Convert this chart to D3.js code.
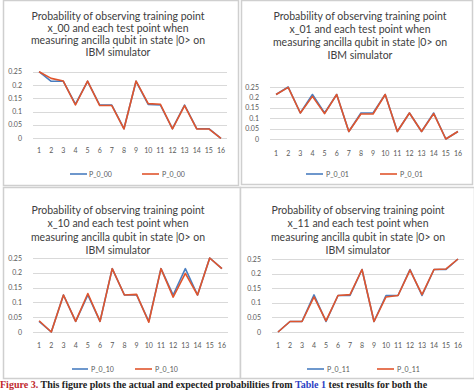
<!DOCTYPE html>
<html>
<head>
<meta charset="utf-8">
<script src="https://cdn.jsdelivr.net/npm/d3@7"></script>
<style>
html,body{margin:0;padding:0;background:#fff;overflow:hidden;}
svg{display:block;}
</style>
</head>
<body>
<svg id="chart" width="474" height="392"></svg>
<script>
// ---------- DATA ----------
const categories = d3.range(1, 17).map(String);
const yTicks = [0, 0.05, 0.1, 0.15, 0.2, 0.25];
const yTickLabels = ["0", "0.05", "0.1", "0.15", "0.2", "0.25"];

const titles = ["x_00", "x_01", "x_10", "x_11"];
const seriesNames = ["P_0_00", "P_0_01", "P_0_10", "P_0_11"];

const blue00 = [0.25, 0.214, 0.214, 0.128, 0.214, 0.125, 0.125, 0.036, 0.214, 0.127, 0.125, 0.036, 0.125, 0.036, 0.036, 0];
const red00  = [0.25, 0.225, 0.215, 0.125, 0.215, 0.123, 0.123, 0.035, 0.215, 0.13, 0.128, 0.035, 0.123, 0.035, 0.035, 0];

const blue01 = [0.214, 0.25, 0.125, 0.214, 0.125, 0.214, 0.036, 0.125, 0.125, 0.214, 0.036, 0.125, 0.036, 0.125, 0, 0.036];
const red01  = [0.214, 0.248, 0.125, 0.205, 0.122, 0.214, 0.036, 0.12, 0.12, 0.214, 0.036, 0.125, 0.036, 0.122, 0, 0.036];

const blue10 = [0.036, 0, 0.125, 0.036, 0.125, 0.036, 0.214, 0.125, 0.125, 0.036, 0.214, 0.125, 0.214, 0.125, 0.25, 0.214];
const red10  = [0.038, 0, 0.125, 0.036, 0.13, 0.036, 0.214, 0.125, 0.127, 0.033, 0.214, 0.118, 0.198, 0.125, 0.25, 0.214];

const blue11 = [0, 0.036, 0.036, 0.127, 0.036, 0.125, 0.125, 0.214, 0.036, 0.125, 0.125, 0.214, 0.125, 0.214, 0.214, 0.25];
const red11  = [0, 0.036, 0.036, 0.12, 0.038, 0.125, 0.128, 0.214, 0.036, 0.12, 0.125, 0.212, 0.128, 0.214, 0.216, 0.25];

const blueSeries = [blue00, blue01, blue10, blue11];
const redSeries = [red00, red01, red10, red11];

// ---------- LAYOUT ----------
const layouts = [
  {box:[3,0,238,185],  plot:[33,227,71.7,138.3], xLab:153, titleX:118, titleY:[16,28,40,52],  leg:174, legB:[70,87,89], legR:[142,159,162]},
  {box:[241,0,472,184],plot:[270,464,87,139],   xLab:156, titleX:360, titleY:[16,29,42,55],  leg:174, legB:[306,323,326], legR:[380,397,400]},
  {box:[3,187,240,378],plot:[33,228,258,332],   xLab:348, titleX:118, titleY:[210,223,237,250], leg:369, legB:[72,88,91], legR:[135,152,155]},
  {box:[240,187,474,378],plot:[272,464,259,332],xLab:348, titleX:358, titleY:[210,223,237,250], leg:369, legB:[307,324,327], legR:[377,394,397]}
];

const BLUE = "#4A7EC0";
const RED = "#E0552D";
const FONT = "Lato, 'Open Sans', sans-serif";

const svg = d3.select("#chart");
svg.append("rect").attr("width",474).attr("height",392).attr("fill","#fff");

layouts.forEach((L, i) => {
  const g = svg.append("g");
  const [bx0, by0, bx1, by1] = L.box;
  g.append("rect").attr("x", bx0 + 0.5).attr("y", by0 + 0.5)
    .attr("width", bx1 - bx0).attr("height", by1 - by0)
    .attr("fill", "#fff").attr("stroke", "#cfcfcf").attr("stroke-width", 1.5);

  // title
  const lines = [
    "Probability of observing training point",
    titles[i] + " and each test point when",
    "measuring ancilla qubit in state |0> on",
    "IBM simulator"
  ];
  lines.forEach((t, k) => {
    g.append("text").attr("x", L.titleX).attr("y", L.titleY[k] + 4)
      .attr("text-anchor", "middle").attr("font-family", FONT)
      .attr("font-size", 10.5).attr("fill", "#404040").text(t);
  });

  const [px0, px1, py1, py0] = L.plot;
  const x = d3.scaleBand().domain(categories).range([px0, px1]);
  const y = d3.scaleLinear().domain([0, 0.25]).range([py0, py1]);

  // gridlines
  g.append("g").selectAll("line").data(yTicks).join("line")
    .attr("x1", px0).attr("x2", px1)
    .attr("y1", d => Math.round(y(d)) + 0.5).attr("y2", d => Math.round(y(d)) + 0.5)
    .attr("stroke", "#d9d9d9").attr("stroke-width", 1);

  // y labels
  g.append("g").selectAll("text").data(yTicks).join("text")
    .attr("x", px0 - 11).attr("y", d => y(d) + 2.5)
    .attr("text-anchor", "end").attr("font-family", FONT)
    .attr("font-size", 7).attr("fill", "#595959")
    .text((d, k) => yTickLabels[k]);

  // x labels
  g.append("g").selectAll("text").data(categories).join("text")
    .attr("x", d => x(d) + x.bandwidth() / 2).attr("y", L.xLab)
    .attr("text-anchor", "middle").attr("font-family", FONT)
    .attr("font-size", 7).attr("fill", "#595959").text(d => d);

  const line = d3.line()
    .x((d, k) => x(categories[k]) + x.bandwidth() / 2)
    .y(d => y(d));

  g.append("path").datum(blueSeries[i]).attr("d", line)
    .attr("fill", "none").attr("stroke", BLUE).attr("stroke-width", 1.6)
    .attr("stroke-linejoin", "round");
  g.append("path").datum(redSeries[i]).attr("d", line)
    .attr("fill", "none").attr("stroke", RED).attr("stroke-width", 1.6)
    .attr("stroke-linejoin", "round");

  // legend
  [[L.legB, BLUE], [L.legR, RED]].forEach(([p, c]) => {
    g.append("line").attr("x1", p[0]).attr("x2", p[1])
      .attr("y1", L.leg).attr("y2", L.leg)
      .attr("stroke", c).attr("stroke-width", 1.6);
    g.append("text").attr("x", p[2]).attr("y", L.leg + 2.5)
      .attr("font-family", FONT).attr("font-size", 7).attr("fill", "#595959")
      .text(seriesNames[i]);
  });
});

// caption below the panels (kept fully visible)
const cap = svg.append("text").attr("x", 0).attr("y", 388)
  .attr("font-family", "'Liberation Serif', serif").attr("font-size", 10)
  .attr("font-weight", "bold");
cap.append("tspan").attr("fill", "#c0282d").text("Figure 3. ");
cap.append("tspan").attr("fill", "#222").text("This figure plots the actual and expected probabilities from ");
cap.append("tspan").attr("fill", "#2b3fc4").text("Table 1");
cap.append("tspan").attr("fill", "#222").text(" test results for both the");
</script>
</body>
</html>
